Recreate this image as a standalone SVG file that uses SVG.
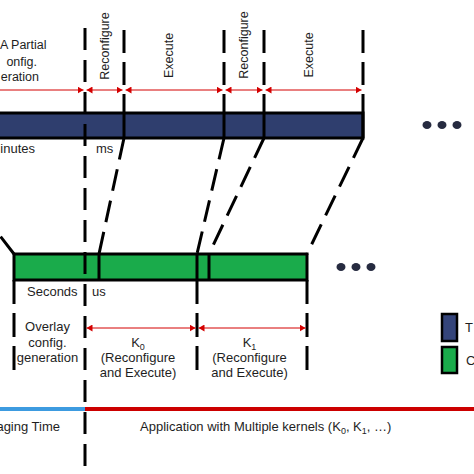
<svg xmlns="http://www.w3.org/2000/svg" width="474" height="474" viewBox="0 0 474 474">
  <defs>
    <marker id="tip" viewBox="0 0 6 7" refX="6" refY="3.5" markerWidth="6" markerHeight="7" markerUnits="userSpaceOnUse" orient="auto-start-reverse">
      <path d="M0,0 L6,3.5 L0,7 z" fill="#d40000"/>
    </marker>
  </defs>
  <style>
    text { font-family: "Liberation Sans", Arial, sans-serif; fill: #1e1e1e; }
    .lbl { font-size: 13px; }
    .top { font-size: 12.5px; }
    .mid { text-anchor: middle; }
    .dim { stroke: #d40000; stroke-width: 1; fill: none; marker-start: url(#tip); marker-end: url(#tip); }
    .dash { stroke: #000; stroke-width: 3; fill: none; stroke-dasharray: 22 10; }
    .solid { stroke: #000; stroke-width: 3; fill: none; }
    .tick { stroke: #000; stroke-width: 3; fill: none; stroke-dasharray: 24 9; }
    .dot { fill: #262b40; }
  </style>

  <!-- FPGA time bar -->
  <g id="fpga-bar">
    <rect x="-10" y="113" width="373" height="25" fill="#2f3e6e" stroke="#000" stroke-width="3"/>
  </g>

  <!-- Overlay time bar -->
  <g id="overlay-bar">
    <rect x="14" y="254" width="293" height="26" fill="#1aab4b" stroke="#000" stroke-width="3"/>
    <path class="solid" d="M99,254 V280 M197,254 V280 M209,254 V280"/>
  </g>

  <!-- continuation dots -->
  <g id="more-top">
    <ellipse class="dot" cx="427" cy="125" rx="4.5" ry="4"/>
    <ellipse class="dot" cx="442" cy="125" rx="4.5" ry="4"/>
    <ellipse class="dot" cx="457" cy="125" rx="4.5" ry="4"/>
  </g>
  <g id="more-mid">
    <ellipse class="dot" cx="341" cy="267" rx="4.5" ry="4"/>
    <ellipse class="dot" cx="356" cy="267" rx="4.5" ry="4"/>
    <ellipse class="dot" cx="371" cy="267" rx="4.5" ry="4"/>
  </g>

  <!-- legend -->
  <g id="legend">
    <rect x="442" y="314" width="15" height="27" fill="#34447a" stroke="#000" stroke-width="2.5"/>
    <text class="lbl" x="465" y="332">T</text>
    <rect x="442" y="347" width="15" height="26" fill="#1aab4b" stroke="#000" stroke-width="2.5"/>
    <text class="lbl" x="466" y="365">C</text>
  </g>

  <!-- connectors -->
  <g id="connectors">
    <!-- long boundary between preparation and application -->
    <path class="dash" d="M85,28 V466"/>
    <!-- step boundaries above the FPGA bar -->
    <path class="solid" d="M124,30 V138 M224,30 V138 M264,30 V138 M363,30 V138" stroke-dasharray="23 9 23 9 100"/>
    <!-- projections onto the overlay bar -->
    <path class="dash" d="M124,138 L99,254"/>
    <path class="dash" d="M224,138 L197,254"/>
    <path class="dash" d="M264,138 L209,254"/>
    <path class="dash" d="M363,138 L307,254"/>
    <path class="dash" d="M14,254 L-75,138" stroke-dasharray="10 10 22 10"/>
    <!-- ticks below the overlay bar -->
    <path class="tick" d="M14,280 V372 M197,280 V372 M307,280 V372"/>
    <!-- dimension arrows, top row -->
    <path class="dim" d="M-40,90 H83.5"/>
    <path class="dim" d="M86.5,90 H122.5"/>
    <path class="dim" d="M125.5,90 H222.5"/>
    <path class="dim" d="M225.5,90 H262.5"/>
    <path class="dim" d="M265.5,90 H361.5"/>
    <!-- dimension arrows, bottom row -->
    <path class="dim" d="M86.5,328 H195.5"/>
    <path class="dim" d="M198.5,328 H305.5"/>
    <!-- overall timeline -->
    <path d="M0,409 H85" stroke="#3d9be0" stroke-width="4"/>
    <path d="M85,409 H474" stroke="#cc0000" stroke-width="4"/>
  </g>

  <!-- labels above the FPGA bar -->
  <g id="top-labels">
    <text class="top" x="46.5" y="49" text-anchor="end">A Partial</text>
    <text class="top" x="37" y="65.5" text-anchor="end">onfig.</text>
    <text class="top" x="39" y="81" text-anchor="end">eration</text>
    <text class="top mid" transform="translate(108.5,46) rotate(-90)">Reconfigure</text>
    <text class="top mid" transform="translate(172.5,55.5) rotate(-90)">Execute</text>
    <text class="top mid" transform="translate(248,45) rotate(-90)">Reconfigure</text>
    <text class="top mid" transform="translate(312.5,55) rotate(-90)">Execute</text>
    <text class="lbl" x="35" y="153" text-anchor="end">inutes</text>
    <text class="lbl" x="96" y="153">ms</text>
  </g>

  <!-- labels below the overlay bar -->
  <g id="mid-labels">
    <text class="lbl" x="27" y="296">Seconds</text>
    <text class="lbl" x="92" y="296">us</text>
    <text class="lbl mid" x="47.5" y="331">Overlay</text>
    <text class="lbl mid" x="47.5" y="346.5">config.</text>
    <text class="lbl mid" x="47.5" y="362">generation</text>
    <text class="lbl mid" x="138" y="347">K<tspan font-size="9" dy="3">0</tspan></text>
    <text class="lbl mid" x="138" y="362">(Reconfigure</text>
    <text class="lbl mid" x="138" y="377">and Execute)</text>
    <text class="lbl mid" x="249.5" y="347">K<tspan font-size="9" dy="3">1</tspan></text>
    <text class="lbl mid" x="249.5" y="362">(Reconfigure</text>
    <text class="lbl mid" x="249.5" y="377">and Execute)</text>
  </g>

  <!-- timeline labels -->
  <g id="bottom-labels">
    <text class="lbl" x="60" y="431" text-anchor="end">aging Time</text>
    <text class="lbl" x="140" y="431">Application with Multiple kernels (K<tspan font-size="9" dy="3">0</tspan><tspan dy="-3">, K</tspan><tspan font-size="9" dy="3">1</tspan><tspan dy="-3">, …)</tspan></text>
  </g>
</svg>
